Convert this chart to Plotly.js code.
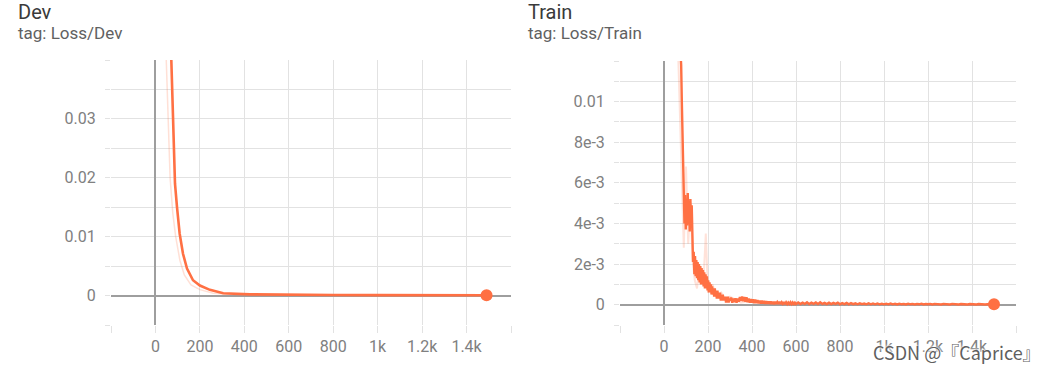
<!DOCTYPE html>
<html>
<head>
<meta charset="utf-8">
<script src="https://cdn.plot.ly/plotly-3.0.1.min.js"></script>
<style>html,body{margin:0;padding:0;background:#fff;}#chart{width:1048px;height:370px;}</style>
</head>
<body>
<div id="chart"></div>
<script>
// ---- Dev (smoothed) ----
const devSteps = [62, 72, 76, 79, 82, 88, 97, 109, 124, 142, 169, 200, 245, 305, 425, 600, 800, 1000, 1200, 1400, 1490];
const devLoss  = [0.052, 0.040, 0.036, 0.0304, 0.0247, 0.0190, 0.0150, 0.0105, 0.0071, 0.0046, 0.0026, 0.0017, 0.00097, 0.0004, 0.0002, 0.00012, 0.0001, 0.00008, 0.00006, 0.00005, 0.00005];
// ---- Dev (raw, faint) ----
const devRawSteps = [40, 48, 57, 66, 78, 91, 110, 130, 160, 200, 260, 350, 1490];
const devRawLoss  = [0.05, 0.040, 0.030, 0.020, 0.014, 0.010, 0.006, 0.0035, 0.0018, 0.001, 0.0004, 0.0002, 0.00005];

// ---- Train (smoothed) ----
const trainSteps = [70,74,78,81,84,87,90,93,96,99,102,105,108,111,114,117,120,123,126,129,132,135,138,141,144,147,150,153,156,159,162,165,168,171,174,177,180,183,186,189,192,195,198,201,204,207,210,213,216,219,222,225,228,231,234,237,240,243,246,249,252,255,258,261,264,267,270,273,276,279,282,285,288,291,294,297,300,
  305,310,315,320,325,330,335,340,345,350,355,360,365,370,375,380,385,390,395,400,405,410,415,420,425,430,435,440,445,450,455,460,465,470,475,480,485,490,495,500,505,510,515,520,525,530,535,540,545,550,555,560,565,570,575,580,585,590,595,600,
  610,620,630,640,650,660,670,680,690,700,710,720,730,740,750,760,770,780,790,800,810,820,830,840,850,860,870,880,890,900,910,920,930,940,950,960,970,980,990,1000,
  1010,1020,1030,1040,1050,1060,1070,1080,1090,1100,1110,1120,1130,1140,1150,1160,1170,1180,1190,1200,1210,1220,1230,1240,1250,1260,1270,1280,1290,1300,
  1310,1320,1330,1340,1350,1360,1370,1380,1390,1400,1410,1420,1430,1440,1450,1460,1470,1480,1490,1500];
const trainLoss = [0.0135,0.0126,0.0118,0.0100,0.0082,0.0066,0.0050,0.0040,0.0054,0.0037,0.0052,0.0039,0.0055,0.0040,0.0051,0.0036,0.0052,0.0038,0.0049,0.0033,0.0021,0.0026,0.0015,0.0024,0.0014,0.0022,0.0013,0.0021,0.0012,0.0020,0.0011,0.0019,0.0010,0.0018,0.0010,0.0017,0.0009,0.0016,0.0008,0.0015,0.0008,0.0014,0.0007,0.0012,0.0006,0.0011,0.0006,0.0010,0.0005,0.0009,0.0005,0.0008,0.0004,0.0008,0.0004,0.0007,0.0003,0.0007,0.0003,0.0006,0.0003,0.0006,0.0002,0.0005,0.0002,0.0005,0.0002,0.0004,0.0002,0.0004,0.0001,0.0004,0.0001,0.0004,0.0001,0.0003,0.0002,
  0.00035,0.0001,0.0003,0.00012,0.00032,0.0001,0.0003,0.00015,0.00038,0.00018,0.0004,0.00017,0.00038,0.00015,0.00036,0.00012,0.0003,0.0001,0.00028,0.0001,0.00026,0.00008,0.00025,0.00008,0.00022,0.00007,0.0002,0.00006,0.0002,0.00006,0.00018,0.00005,0.00017,0.00005,0.00016,0.00004,0.00015,0.00004,0.00014,0.00002,0.00014,0.00004,0.00013,0.00004,0.00014,0.00003,0.00012,0.00004,0.00013,0.00003,0.00012,0.00003,0.00011,0.00004,0.00012,0.00003,0.00011,0.00003,0.0001,0.00003,
  0.00011,0.00003,0.0001,0.00004,0.00012,0.00003,0.0001,0.00004,0.00011,0.00003,0.00012,0.00004,0.00009,0.00003,0.0001,0.00003,0.00009,0.00004,0.0001,0.00002,0.00008,0.00003,0.00009,0.00002,0.00008,0.00003,0.00007,0.00002,0.00007,0.00003,0.00006,0.00002,0.00007,0.00002,0.00006,0.00002,0.00006,0.00002,0.00005,0.00002,
  0.00005,0.00002,0.00006,0.00002,0.00005,0.00001,0.00005,0.00002,0.00004,0.00001,0.00005,0.00002,0.00004,0.00001,0.00004,0.00002,0.00005,0.00001,0.00004,0.00002,0.00004,0.00001,0.00004,0.00002,0.00003,0.00001,0.00004,0.00002,0.00003,0.00001,
  0.00004,0.00002,0.00003,0.00001,0.00003,0.00002,0.00003,0.00001,0.00003,0.00002,0.00003,0.00001,0.00003,0.00002,0.00003,0.00001,0.00003,0.00002,0.00002,0.00002];
// ---- Train (raw, faint) ----
const trainRawSteps = [60,70,80,90,100,110,120,130,140,150,160,170,180,190,200,220,240,260,280,300,350,400];
const trainRawLoss  = [0.014,0.0105,0.0070,0.0028,0.0068,0.0030,0.0050,0.0022,0.0012,0.0008,0.0018,0.0010,0.0013,0.0035,0.0006,0.0010,0.0004,0.0006,0.0003,0.0004,0.0001,0.0002];

// ---- ticks ----
const xTickVals = [-200,0,200,400,600,800,1000,1200,1400,1600];
const xTickText = ['','0','200','400','600','800','1k','1.2k','1.4k',''];
const devTickVals = [-0.005,0,0.005,0.01,0.015,0.02,0.025,0.03,0.035,0.04];
const devTickText = ['','0','','0.01','','0.02','','0.03','',''];
const trainTickVals = [-0.001,0,0.001,0.002,0.003,0.004,0.005,0.006,0.007,0.008,0.009,0.01,0.011,0.012];
const trainTickText = ['','0','','2e-3','','4e-3','','6e-3','','8e-3','','0.01','',''];

const ORANGE = '#ff7043';
const FONT = 'Roboto, "Noto Sans", sans-serif';

const traces = [
  {x: devRawSteps, y: devRawLoss, xaxis:'x', yaxis:'y', mode:'lines', line:{color:ORANGE, width:1.5}, opacity:0.22, hoverinfo:'skip'},
  {x: devSteps, y: devLoss, xaxis:'x', yaxis:'y', mode:'lines', line:{color:ORANGE, width:2.6}},
  {x: [devSteps[devSteps.length-1]], y: [devLoss[devLoss.length-1]], xaxis:'x', yaxis:'y', mode:'markers', marker:{color:ORANGE, size:12}},
  {x: trainRawSteps, y: trainRawLoss, xaxis:'x2', yaxis:'y2', mode:'lines', line:{color:ORANGE, width:2}, opacity:0.2, hoverinfo:'skip'},
  {x: trainSteps, y: trainLoss, xaxis:'x2', yaxis:'y2', mode:'lines', line:{color:ORANGE, width:2.4}},
  {x: [trainSteps[trainSteps.length-1]], y: [trainLoss[trainLoss.length-1]], xaxis:'x2', yaxis:'y2', mode:'markers', marker:{color:ORANGE, size:12}}
];

const GRID = '#e2e2e2';
const ZERO = '#9e9e9e';
function xa(domain, anchor){
  return {domain: domain, anchor: anchor, range:[-200,1600], tickmode:'array', tickvals:xTickVals, ticktext:xTickText,
    showgrid:true, gridcolor:GRID, gridwidth:1, zeroline:true, zerolinecolor:ZERO, zerolinewidth:2,
    ticks:'outside', ticklen:7, tickcolor:GRID, showline:false, fixedrange:true,
    tickfont:{family:FONT, size:16, color:'#808080'}};
}
function ya(domain, anchor, range, vals, text){
  return {domain: domain, anchor: anchor, range: range, tickmode:'array', tickvals:vals, ticktext:text,
    showgrid:true, gridcolor:GRID, gridwidth:1, zeroline:true, zerolinecolor:ZERO, zerolinewidth:2,
    ticks:'outside', ticklen:5, tickcolor:GRID, showline:false, fixedrange:true, ticklabelstandoff:6,
    tickfont:{family:FONT, size:16, color:'#808080'}};
}
const W = 1048, H = 370;
const layout = {
  width: W, height: H, margin:{l:0,r:0,t:0,b:0}, paper_bgcolor:'#fff', plot_bgcolor:'#fff', showlegend:false,
  xaxis: xa([111/W, 511/W], 'y'),
  yaxis: ya([1-325/H, 1-60/H], 'x', [-0.005, 0.04], devTickVals, devTickText),
  xaxis2: xa([620/W, 1016/W], 'y2'),
  yaxis2: ya([1-325/H, 1-61/H], 'x2', [-0.001, 0.012], trainTickVals, trainTickText),
  annotations: [
    {text:'Dev', xref:'paper', yref:'paper', x:16/W, y:1-12/H, xanchor:'left', yanchor:'middle', showarrow:false, font:{family:FONT, size:20, color:'#3a3a3a'}},
    {text:'tag: Loss/Dev', xref:'paper', yref:'paper', x:16/W, y:1-33/H, xanchor:'left', yanchor:'middle', showarrow:false, font:{family:FONT, size:17, color:'#616161'}},
    {text:'Train', xref:'paper', yref:'paper', x:526/W, y:1-12/H, xanchor:'left', yanchor:'middle', showarrow:false, font:{family:FONT, size:20, color:'#3a3a3a'}},
    {text:'tag: Loss/Train', xref:'paper', yref:'paper', x:526/W, y:1-33/H, xanchor:'left', yanchor:'middle', showarrow:false, font:{family:FONT, size:17, color:'#616161'}},
    {text:'CSDN @『Caprice』', xref:'paper', yref:'paper', x:871/W, y:1-352/H, xanchor:'left', yanchor:'middle', showarrow:false,
     font:{family:'"Noto Sans CJK SC", Roboto, sans-serif', size:18, color:'#5f5f5f', shadow:'0 0 2px #fff, 0 0 3px #fff, 0 0 4px #fff'}}
  ]
};
Plotly.newPlot('chart', traces, layout, {displayModeBar:false, staticPlot:true});
</script>
</body>
</html>
